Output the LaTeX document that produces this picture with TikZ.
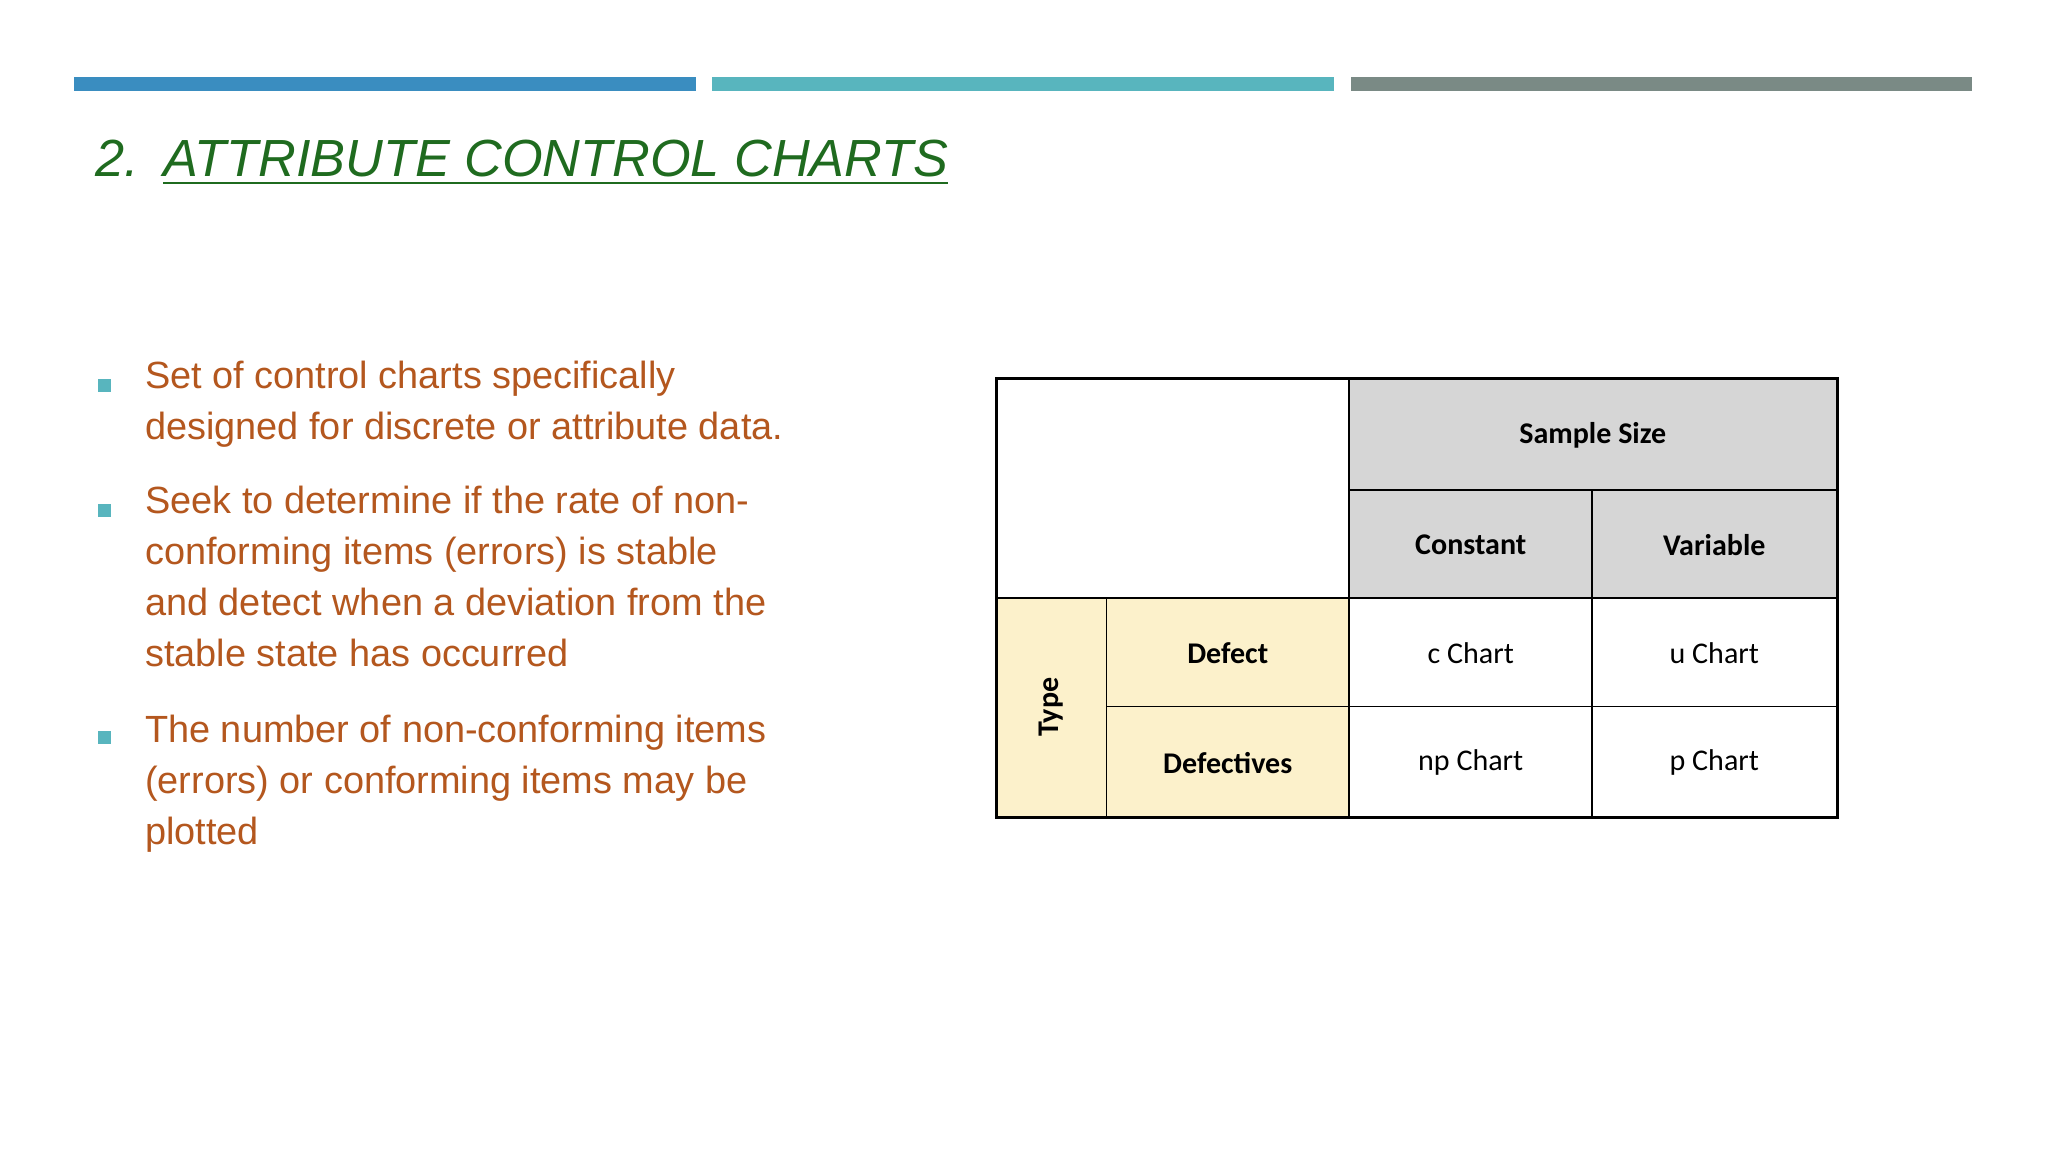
\documentclass[tikz,border=0pt]{standalone}
\usepackage{fontspec}
\setmainfont{Liberation Sans}
\newfontfamily\tabfont{Carlito}
\definecolor{barA}{HTML}{3A8DC0}
\definecolor{barB}{HTML}{58B5BE}
\definecolor{barC}{HTML}{7A8A85}
\definecolor{titleg}{HTML}{1F6B1F}
\definecolor{txt}{HTML}{B4571E}
\definecolor{hdr}{HTML}{D6D6D6}
\definecolor{ylw}{HTML}{FCF1CB}
\tikzset{
 bar/.style={fill=#1,draw=none},
 bul/.style={anchor=west,text=txt,font=\fontsize{29}{39}\selectfont,align=left,inner sep=0},
 sq/.style={fill=barB,draw=none,minimum size=10,inner sep=0},
 cell/.style={font=\tabfont\fontsize{23}{26}\selectfont,text=black},
 hcell/.style={cell,font=\tabfont\bfseries\fontsize{23}{26}\selectfont}
}
\begin{document}
\begin{tikzpicture}[x=1pt,y=-1pt]
\useasboundingbox (0,0) rectangle (1568,882);
\fill[white] (0,0) rectangle (1568,882);
\fill[bar=barA] (57,59) rectangle (533,70);
\fill[bar=barB] (545,59) rectangle (1021,70);
\fill[bar=barC] (1034,59) rectangle (1510,70);
\node[anchor=base west,inner sep=0,text=titleg,font=\fontsize{40}{44}\selectfont\itshape] (title) at (73,135) {2.};
\node[anchor=base west,inner sep=0,text=titleg,font=\fontsize{40}{44}\selectfont\itshape] (titleb) at (125,135) {ATTRIBUTE CONTROL CHARTS};
\draw[titleg,line width=2] (titleb.base west) ++(0,5) -- ([yshift=-5]titleb.base east);
% bullets
\node[sq] (s1) at (80,295) {};
\node[bul,anchor=north west] (b1) at (111,276) {Set of control charts specifically\\designed for discrete or attribute data.};
\node[sq] (s2) at (80,391) {};
\node[bul,anchor=north west] (b2) at (111,372) {Seek to determine if the rate of non-\\conforming items (errors) is stable\\and detect when a deviation from the\\stable state has occurred};
\node[sq] (s3) at (80,565) {};
\node[bul,anchor=north west] (b3) at (111,547) {The number of non-conforming items\\(errors) or conforming items may be\\plotted};
% table
\fill[hdr] (1033,290) rectangle (1406,458);
\fill[ylw] (763,458) rectangle (1033,625);
\draw[line width=1.2] (1033,290) -- (1033,625) (1219,375) -- (1219,625)
  (847,458) -- (847,625) (1033,375) -- (1406,375) (763,458) -- (1406,458)
  (847,541) -- (1406,541);
\draw[line width=2.5] (763,290) rectangle (1407,626);
\node[hcell] (ss) at (1219.5,333) {Sample Size};
\node[hcell] (con) at (1126,417) {Constant};
\node[hcell] (var) at (1312.5,417) {Variable};
\node[hcell,rotate=90] (typ) at (805,541.5) {Type};
\node[hcell] (def) at (940,500) {Defect};
\node[hcell] (defs) at (940,584) {Defectives};
\node[cell] (c) at (1126,500) {c Chart};
\node[cell] (u) at (1312.5,500) {u Chart};
\node[cell] (np) at (1126,584) {np Chart};
\node[cell] (p) at (1312.5,584) {p Chart};
\end{tikzpicture}
\end{document}
